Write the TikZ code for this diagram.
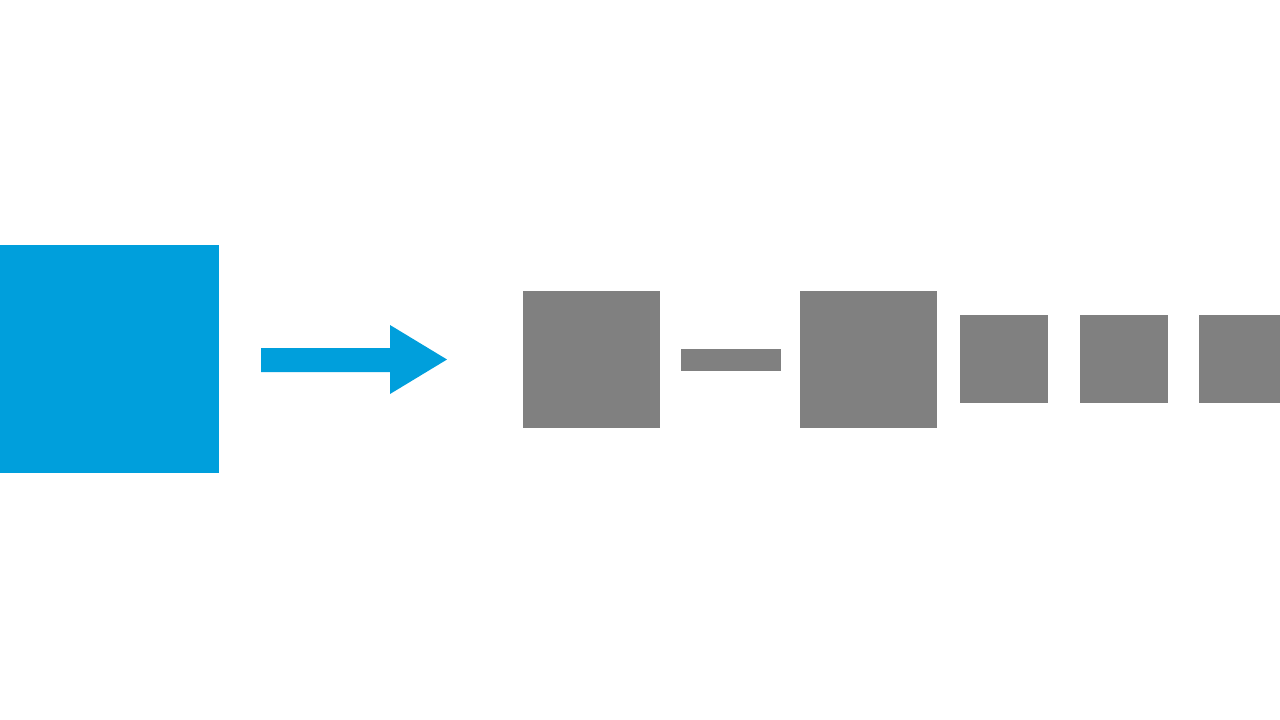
\documentclass[tikz,border=0pt]{standalone}
\usepackage{tikz}
\usetikzlibrary{calc}

\definecolor{splitblue}{RGB}{0,159,220}
\definecolor{partgray}{RGB}{128,128,128}

\tikzset{
  whole/.style={fill=splitblue,draw=none,inner sep=0pt,minimum width=219pt,minimum height=228pt},
  bigpart/.style={fill=partgray,draw=none,inner sep=0pt,minimum size=137pt},
  smallpart/.style={fill=partgray,draw=none,inner sep=0pt,minimum size=88pt},
  dashpart/.style={fill=partgray,draw=none,inner sep=0pt,minimum width=100pt,minimum height=22pt}
}

\begin{document}
\begin{tikzpicture}[x=1pt,y=-1pt]
    \clip (0,0) rectangle (1280,720);
    \fill[white] (0,0) rectangle (1280,720);
    % Whole block.
    \node[whole] (whole) at (109.5,359) {};
    % Arrow.
    \fill[splitblue] (261,348) -- (390,348) -- (390,325) -- (447,359.5)
      -- (390,394) -- (390,372) -- (261,372) -- cycle;
    % Parts.
    \node[bigpart] (partA) at (591.5,359.5) {};
    \node[dashpart] (dash) at (731,359.5) {};
    \node[bigpart] (partB) at (868.5,359.5) {};
    \foreach \x/\n in {1004/C, 1123.5/D, 1243/E}
      \node[smallpart] (part\n) at (\x,359) {};
\end{tikzpicture}
\end{document}
